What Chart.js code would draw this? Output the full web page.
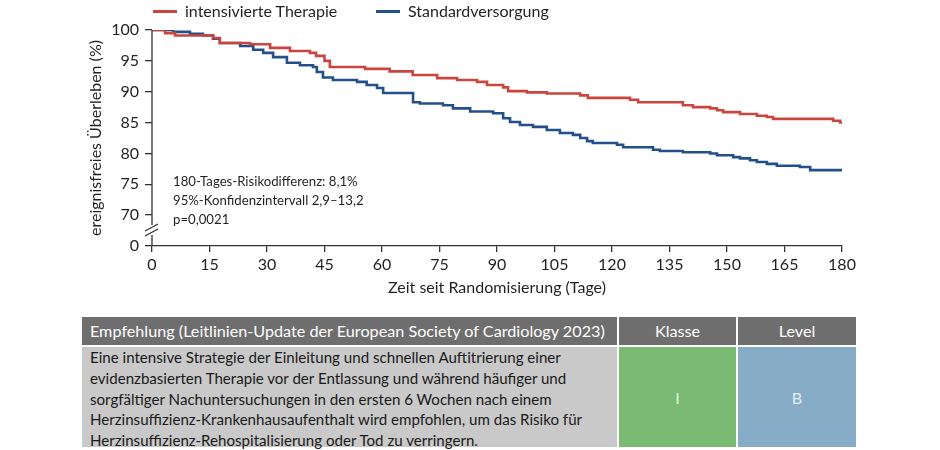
<!DOCTYPE html>
<html lang="de">
<head>
  <meta charset="UTF-8">
  <title>Ereignisfreies Überleben</title>
  <script src="https://cdn.jsdelivr.net/npm/chart.js"></script>
  <style>
    body { margin:0; width:940px; height:450px; background:#fff; position:relative; overflow:hidden;
           font-family: Lato, "Noto Sans", sans-serif; color:#231f20; }
    #chartBox { position:absolute; left:0; top:0; width:940px; height:300px; }
    .leg { position:absolute; top:0; height:22px; line-height:22px; font-size:16px; white-space:nowrap; }
    .leg i { display:inline-block; width:24px; height:3px; vertical-align:middle; margin-right:8px; position:relative; top:-1px; }
    #tbl { position:absolute; left:82px; top:317px; display:grid; grid-template-columns:535px 117px 118px;
           grid-template-rows:28px 100px; gap:2px; }
    #tbl div { box-sizing:border-box; }
    .hd { background:#6e6e6e; color:#fff; font-size:16.2px; line-height:28px; padding-left:8px; white-space:nowrap; }
    .hd.c { text-align:center; padding-left:0; }
    .bd { background:#c9c9c9; font-size:15.1px; line-height:20.8px; padding:0 0 0 8px; white-space:nowrap; color:#1a1a1a; }
    .cls { background:#7aba72; color:#e3f6d6; font-size:16px; display:flex; align-items:center; justify-content:center; }
    .lvl { background:#86acc8; color:#e4eff8; font-size:16px; display:flex; align-items:center; justify-content:center; }
  </style>
</head>
<body>
  <div id="chartBox"><canvas id="kmChart"></canvas></div>
  <div id="legend"></div>
  <div id="tbl">
    <div class="hd">Empfehlung (Leitlinien-Update der European Society of Cardiology 2023)</div>
    <div class="hd c">Klasse</div>
    <div class="hd c">Level</div>
    <div class="bd">Eine intensive Strategie der Einleitung und schnellen Auftitrierung einer<br>evidenzbasierten Therapie vor der Entlassung und während häufiger und<br>sorgfältiger Nachuntersuchungen in den ersten 6 Wochen nach einem<br>Herzinsuffizienz-Krankenhausaufenthalt wird empfohlen, um das Risiko für<br>Herzinsuffizienz-Rehospitalisierung oder Tod zu verringern.</div>
    <div class="cls">I</div>
    <div class="lvl">B</div>
  </div>
  <script>
    // Kaplan-Meier curves (days, % event-free)
    const seriesNames = ['intensivierte Therapie', 'Standardversorgung'];
    const seriesColors = ['#c8463f', '#24508a'];

    const intensivDays = [0, 3.4, 6, 16, 17.7, 25.6, 30.8, 36, 41.2, 42.8, 45, 46.4, 55.6, 62, 68, 74.4, 79.6, 84.8,
      87.4, 91.6, 92.9, 97.8, 103, 111.7, 113.7, 124.7, 126.8, 138.5, 141.1, 145.6, 147.4, 149, 153.4, 157.8,
      160.4, 162, 177.7, 179.5, 180];
    const intensivSurv = [100, 99.5, 99.1, 98.7, 97.9, 97.7, 97.1, 96.6, 96.3, 95.8, 95.0, 94.0, 93.7, 93.3, 92.7, 92.2,
      91.9, 91.6, 91.1, 90.7, 90.1, 89.9, 89.7, 89.4, 89.0, 88.7, 88.3, 87.8, 87.5, 87.3, 87.0, 86.7, 86.4, 86.1,
      85.9, 85.6, 85.3, 85.0, 84.9];

    const standardDays = [0, 5.5, 9.9, 13.3, 15.9, 17.7, 23, 26.4, 29, 31.6, 35.2, 38.6, 42, 43, 44.6, 47.2, 53.5, 56,
      58.7, 60.3, 68.1, 69.9, 75.9, 78.5, 83, 89, 91.6, 93.4, 96, 99.4, 103, 106.4, 109.8, 111.7, 113.5, 115,
      121.3, 122.9, 130.7, 132.5, 138.5, 145.6, 147.4, 151.6, 153.4, 156, 157.8, 160.4, 163, 169, 171.7, 180];
    const standardSurv = [100, 99.7, 99.4, 99.1, 98.6, 97.9, 97.4, 96.8, 96.3, 95.6, 94.7, 94.3, 94.0, 93.2, 92.3, 91.9,
      91.6, 91.1, 90.6, 89.8, 88.3, 88.1, 87.8, 87.3, 86.8, 86.5, 85.7, 85.1, 84.6, 84.3, 83.8, 83.3, 83.0, 82.5,
      82.0, 81.7, 81.4, 81.0, 80.6, 80.4, 80.2, 80.0, 79.7, 79.4, 79.2, 78.9, 78.6, 78.3, 78.0, 77.8, 77.3, 77.3];

    // axis: 0 is drawn at the position of 65 (broken axis)
    const yTicks = [65, 70, 75, 80, 85, 90, 95, 100];
    const yTickLabels = ['0', '70', '75', '80', '85', '90', '95', '100'];
    const xTicks = [0, 15, 30, 45, 60, 75, 90, 105, 120, 135, 150, 165, 180];

    const noteLines = ['180-Tages-Risikodifferenz: 8,1%', '95%-Konfidenzintervall 2,9–13,2', 'p=0,0021'];

    const toPoints = (xs, ys) => xs.map((d, i) => ({ x: d, y: ys[i] }));

    // legend
    const legendEl = document.getElementById('legend');
    const legendLeft = [153, 376];
    seriesNames.forEach((name, i) => {
      const el = document.createElement('div');
      el.className = 'leg';
      el.style.left = legendLeft[i] + 'px';
      el.innerHTML = '<i style="background:' + seriesColors[i] + '"></i>' + name;
      legendEl.appendChild(el);
    });

    const txt = '#231f20';
    const axisCol = '#333';

    const brokenAxis = {
      id: 'brokenAxis',
      afterDraw(chart) {
        const { ctx, scales: { y } } = chart;
        const left = chart.chartArea.left;
        ctx.save();
        ctx.strokeStyle = axisCol;
        ctx.lineWidth = 1.3;
        ctx.beginPath();
        ctx.moveTo(left, y.getPixelForValue(100));
        ctx.lineTo(left, y.getPixelForValue(68.4));
        ctx.moveTo(left, y.getPixelForValue(66.8));
        ctx.lineTo(left, y.getPixelForValue(65));
        ctx.stroke();
        // break marks
        const yb = y.getPixelForValue(67.6);
        ctx.beginPath();
        ctx.moveTo(left - 7, yb + 1); ctx.lineTo(left + 6, yb - 6);
        ctx.moveTo(left - 7, yb + 6); ctx.lineTo(left + 6, yb - 1);
        ctx.stroke();
        // statistics note
        ctx.fillStyle = txt;
        ctx.font = '13.2px Lato, "Noto Sans", sans-serif';
        ctx.textBaseline = 'middle';
        ctx.textAlign = 'left';
        noteLines.forEach((t, i) => ctx.fillText(t, left + 21, 182 + i * 19));
        ctx.restore();
      }
    };

    new Chart(document.getElementById('kmChart'), {
      type: 'line',
      data: {
        datasets: [
          { label: seriesNames[0], data: toPoints(intensivDays, intensivSurv), borderColor: seriesColors[0] },
          { label: seriesNames[1], data: toPoints(standardDays, standardSurv), borderColor: seriesColors[1] }
        ].map(d => Object.assign(d, { stepped: true, borderWidth: 2.6, pointRadius: 0, fill: false }))
      },
      options: {
        responsive: true,
        maintainAspectRatio: false,
        animation: false,
        events: [],
        layout: { padding: { left: 0, right: 98, top: 30, bottom: 0 } },
        plugins: { legend: { display: false }, tooltip: { enabled: false } },
        scales: {
          x: {
            type: 'linear', min: 0, max: 180,
            afterFit: s => { s.height = 54; },
            afterBuildTicks: s => { s.ticks = xTicks.map(v => ({ value: v })); },
            grid: { drawOnChartArea: false, drawTicks: true, tickLength: 6, color: axisCol, lineWidth: 1.3 },
            border: { display: true, color: axisCol, width: 1.3 },
            ticks: { color: txt, font: { family: 'Lato', size: 16 }, padding: 3, maxRotation: 0 },
            title: { display: true, text: 'Zeit seit Randomisierung (Tage)', color: txt,
                     font: { family: 'Lato', size: 16 }, padding: { top: 0, bottom: 3 } }
          },
          y: {
            type: 'linear', min: 65, max: 100,
            afterFit: s => { s.width = 152; },
            afterBuildTicks: s => { s.ticks = yTicks.map(v => ({ value: v })); },
            grid: { drawOnChartArea: false, drawTicks: true, tickLength: 7, color: axisCol, lineWidth: 1.3 },
            border: { display: false },
            ticks: { color: txt, font: { family: 'Lato', size: 16 }, padding: 6,
                     callback: v => yTickLabels[yTicks.indexOf(v)] },
            title: { display: true, text: 'ereignisfreies Überleben (%)', color: txt,
                     font: { family: 'Lato', size: 16 }, padding: { top: 86, bottom: 0 } }
          }
        }
      },
      plugins: [brokenAxis]
    });
  </script>
</body>
</html>
